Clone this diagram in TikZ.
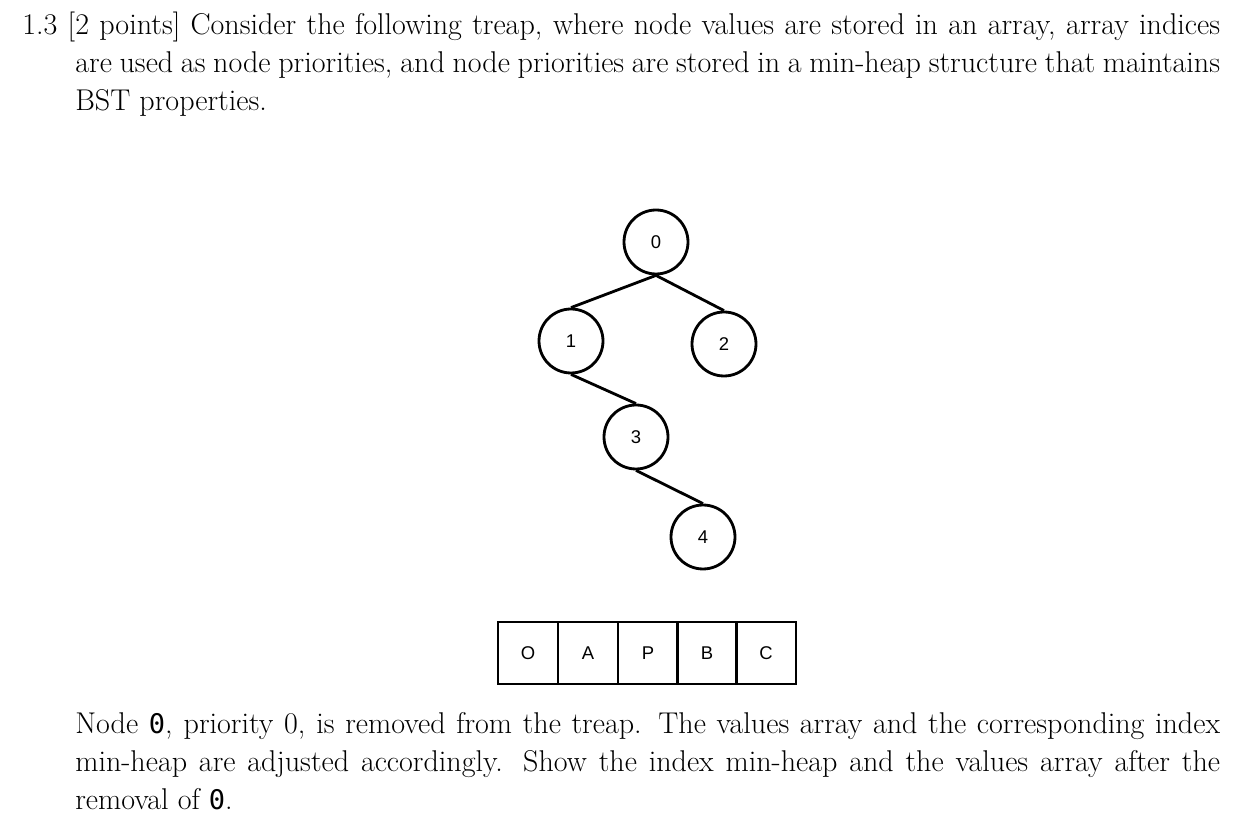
\documentclass[tikz,border=0pt]{standalone}
\usepackage{fontspec}
\newfontfamily\hv{Liberation Sans}
\newfontfamily\mono{DejaVu Sans Mono}[Scale=0.9]
\begin{document}
\begin{tikzpicture}[x=0.02cm,y=-0.02cm,
  tn/.style={circle,draw,line width=1.6pt,minimum size=1.28cm,inner sep=0pt,font=\hv\fontsize{10.5}{12}\selectfont},
  cell/.style={draw,line width=1.6pt,minimum width=1.2cm,minimum height=1.24cm,inner sep=0pt,font=\hv\fontsize{10.5}{12}\selectfont},
  para/.style={anchor=north west,inner sep=0pt,align=justify,font=\fontsize{17.1}{21.6}\selectfont}]
\useasboundingbox (0,0) rectangle (1242,834);
\node[para,text width=23.96cm] (top) at (22,12) {\hangindent=1.06cm\hangafter=1 1.3 [2 points] Consider the following treap, where node values are stored in an array, array indices are used as node priorities, and node priorities are stored in a min-heap structure that maintains BST properties.\par};
\node[tn] (n0) at (656,242) {0};
\node[tn] (n1) at (571,341) {1};
\node[tn] (n2) at (724,344) {2};
\node[tn] (n3) at (636,437) {3};
\node[tn] (n4) at (703,537) {4};
\draw[line width=1.6pt] (n0.south)--(n1.north) (n0.south)--(n2.north) (n1.south)--(n3.north) (n3.south)--(n4.north);
\node[cell] (c0) at (528,653) {O};
\node[cell] (c1) at (588,653) {A};
\node[cell] (c2) at (648,653) {P};
\node[cell] (c3) at (707,653) {B};
\node[cell] (c4) at (766,653) {C};
\node[para,text width=22.9cm] (bot) at (75,712) {Node {\mono 0}, priority 0, is removed from the treap. The values array and the corresponding index min-heap are adjusted accordingly. Show the index min-heap and the values array after the removal of {\mono 0}.\par};
\end{tikzpicture}
\end{document}
